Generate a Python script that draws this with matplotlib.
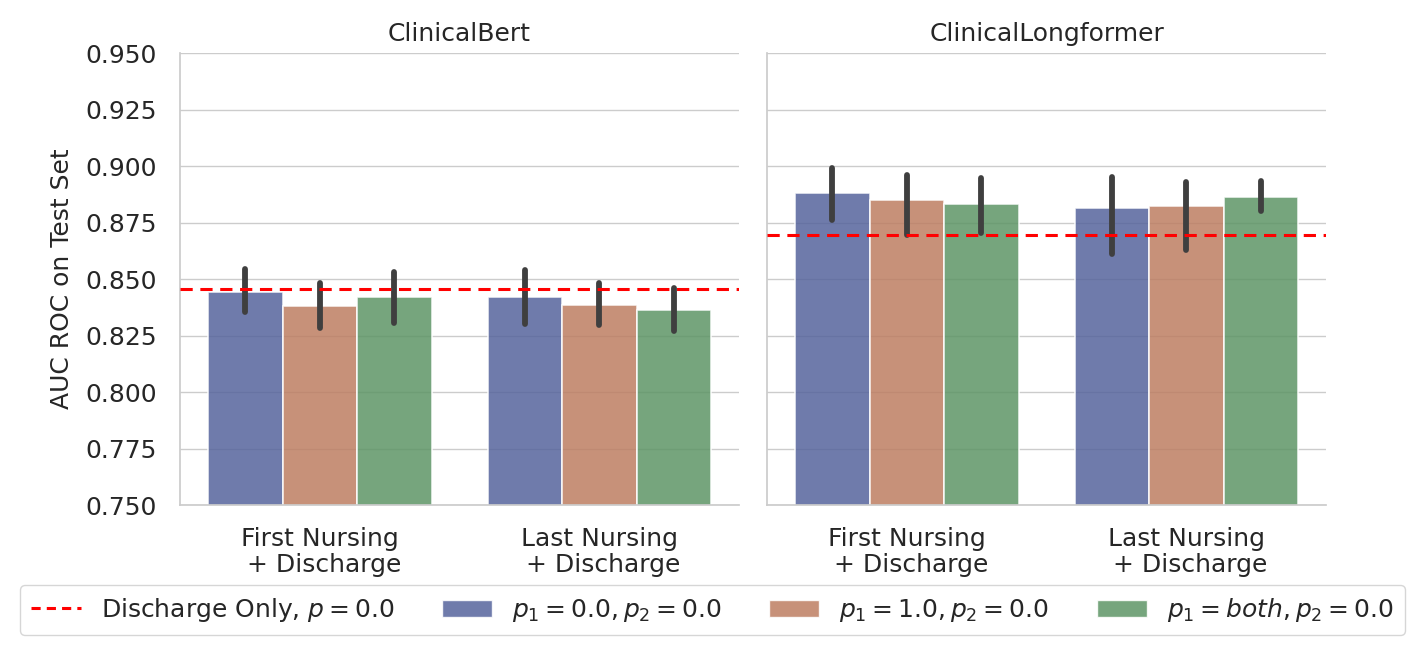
import numpy as np
import matplotlib.pyplot as plt
import seaborn as sns
from matplotlib.patches import Patch
from matplotlib.lines import Line2D

sns.set_theme(style="whitegrid")
plt.rcParams['font.family'] = ['DejaVu Sans']

# data
models = ["ClinicalBert", "ClinicalLongformer"]
categories = ["First Nursing\n + Discharge", "Last Nursing\n + Discharge"]
series = ["$p_1 = 0.0, p_2 = 0.0$", "$p_1 = 1.0, p_2 = 0.0$", "$p_1 = both, p_2 = 0.0$"]
baseline = [0.8457, 0.8695]

# mean, lower, upper per model -> category -> series
means = {
    "ClinicalBert": [[0.8441, 0.8382, 0.8419], [0.8419, 0.8385, 0.8361]],
    "ClinicalLongformer": [[0.8881, 0.8851, 0.8830], [0.8815, 0.8822, 0.8864]],
}
lows = {
    "ClinicalBert": [[0.8354, 0.8282, 0.8307], [0.8301, 0.8296, 0.8270]],
    "ClinicalLongformer": [[0.8763, 0.8693, 0.8703], [0.8612, 0.8630, 0.8800]],
}
highs = {
    "ClinicalBert": [[0.8544, 0.8484, 0.8532], [0.8539, 0.8483, 0.8461]],
    "ClinicalLongformer": [[0.8990, 0.8960, 0.8945], [0.8952, 0.8930, 0.8936]],
}

colors = ["#56649c", "#bd7e62", "#5e9566"]
FS = 18

fig, axes = plt.subplots(1, 2, figsize=(14.23, 6.55), dpi=100, sharey=True)
fig.subplots_adjust(left=0.1265, right=0.932, top=0.919, bottom=0.229, wspace=0.05)

x = np.arange(len(categories))
width = 0.8 / len(series)
for ax, model in zip(axes, models):
    m = np.array(means[model])
    lo = np.array(lows[model])
    hi = np.array(highs[model])
    for j in range(len(series)):
        pos = x - 0.4 + width * (j + 0.5)
        ax.bar(pos, m[:, j], width, color=colors[j], alpha=0.85,
               edgecolor="white", linewidth=1.2, zorder=2)
        ax.vlines(pos, lo[:, j], hi[:, j], color="#3f3f3f", linewidth=4.2,
                  capstyle="round", zorder=3)
    ax.axhline(baseline[models.index(model)], color="red", linestyle="--",
               linewidth=2.2, dashes=(4, 2.5), zorder=4)
    ax.set_xlim(-0.5, 1.5)
    ax.set_ylim(0.75, 0.95)
    ax.set_xticks(x)
    ax.set_xticklabels(categories, fontsize=FS, linespacing=1.15)
    ax.set_title(model, fontsize=FS, pad=9)
    ax.grid(axis="x", visible=False)
    ax.tick_params(axis="y", labelsize=FS, pad=10.5)
    ax.tick_params(axis="x", pad=9.5)
    for s in ["top", "right"]:
        ax.spines[s].set_visible(False)

yt = np.arange(0.75, 0.951, 0.025)
axes[0].set_yticks(yt)
axes[0].set_yticklabels([f"{v:.3f}" for v in yt])
axes[0].set_ylabel("AUC ROC on Test Set", fontsize=FS, labelpad=8)
axes[1].tick_params(axis="y", labelleft=False)

handles = [Line2D([0], [0], color="red", linestyle="--", linewidth=2.2, dashes=(3, 2))]
handles += [Patch(facecolor=c, alpha=0.85, edgecolor="white") for c in colors]
labels = ["Discharge Only, $p = 0.0$"] + series
fig.legend(handles, labels, loc="lower left", ncol=4, mode="expand",
           bbox_to_anchor=(0.014, 0.03, 0.973, 0.075), fontsize=FS,
           frameon=True, handlelength=2.0, borderpad=0.45, borderaxespad=0)

fig.savefig("out.png", dpi=100)
